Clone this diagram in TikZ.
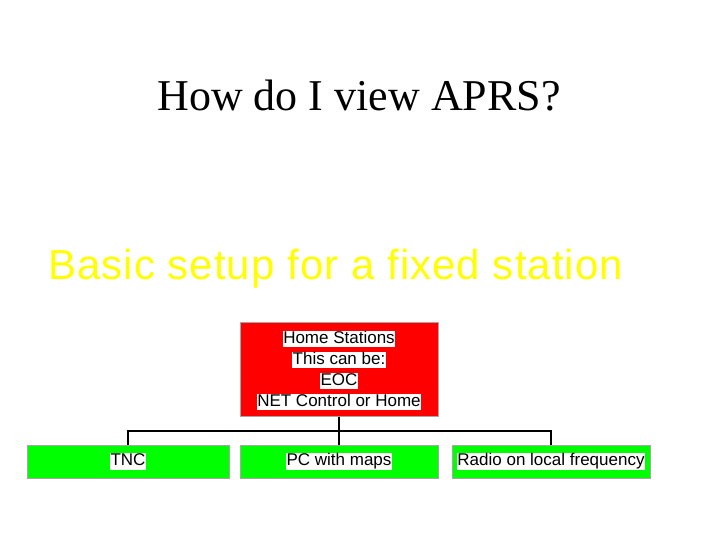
\documentclass[tikz,border=0pt]{standalone}
\usepackage{fontspec}
\setmainfont{Liberation Serif}
\newfontfamily\arial{Liberation Sans}
\newfontfamily\arialsp[LetterSpace=2.5]{Liberation Sans}
\begin{document}
\begin{tikzpicture}[x=1pt,y=-1pt,
  box/.style={draw=gray!70, line width=1pt},
  lbl/.style={fill=white, inner sep=0.5pt, text height=12pt, text depth=3.5pt, font=\arial\fontsize{17}{19}\selectfont, text=black},
  wire/.style={line width=1.2pt, black}]
\useasboundingbox (0,0) rectangle (720,540);
\node (title) at (359,96) {\fontsize{44}{48}\selectfont How do I view APRS?};
\node[text={rgb,255:red,255;green,255;blue,0}, anchor=west, inner sep=0pt, font=\arialsp\fontsize{42}{46}\selectfont] (sub) at (48,269) {Basic setup for a fixed station};
\node[box, fill=red, minimum width=198pt, minimum height=94pt, inner sep=0pt] (home) at (339,369) {};
\node[lbl] (h1) at (339,339) {Home Stations};
\node[lbl] (h2) at (339,360) {This can be:};
\node[lbl] (h3) at (339,381) {EOC};
\node[lbl] (h4) at (339,402) {NET Control or Home};
\node[box, fill=green, minimum width=202pt, minimum height=33pt, inner sep=0pt] (tnc) at (128,461.5) {};
\node[box, fill=green, minimum width=198pt, minimum height=33pt, inner sep=0pt] (pc) at (339,461.5) {};
\node[box, fill=green, minimum width=198pt, minimum height=33pt, inner sep=0pt] (radio) at (551,461.5) {};
\node[lbl] at (tnc) {TNC};
\node[lbl] at (pc) {PC with maps};
\node[lbl] at (radio) {Radio on local frequency};
\coordinate (bus) at (339,431);
\draw[wire] (home.south) -- (pc.north);
\draw[wire] (tnc.north) -- (tnc.north |- bus) -- (radio.north |- bus) -- (radio.north);
\end{tikzpicture}
\end{document}
